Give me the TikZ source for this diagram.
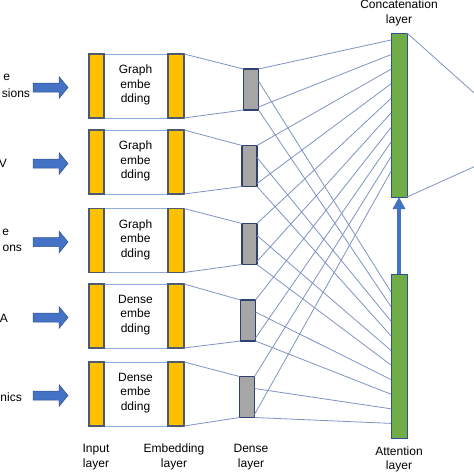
\documentclass[tikz,border=0pt]{standalone}
\usepackage{fontspec}
\setmainfont{Liberation Sans}
\usetikzlibrary{arrows.meta,calc}
\definecolor{gold}{HTML}{FFC000}
\definecolor{yedge}{HTML}{4D5A6B}
\definecolor{frameline}{HTML}{8FAADC}
\definecolor{wirecol}{HTML}{7F92C2}
\definecolor{grayfill}{HTML}{A6A6A6}
\definecolor{grayedge}{HTML}{2F4170}
\definecolor{greenfill}{HTML}{70AD47}
\definecolor{greenedge}{HTML}{2F528F}
\definecolor{arrowblue}{HTML}{4472C4}
\definecolor{arrowedge}{HTML}{2F528F}
\tikzset{
  base/.style={inner sep=0pt, outer sep=0pt},
  framebox/.style={base, draw=frameline, line width=0.8pt, minimum width=95pt, minimum height=64pt},
  inrect/.style={base, fill=gold, draw=yedge, line width=1.2pt, minimum width=15pt, minimum height=64pt},
  emrect/.style={base, fill=gold, draw=yedge, line width=1.2pt, minimum width=16pt, minimum height=64pt},
  graybox/.style={base, fill=grayfill, draw=grayedge, line width=1.2pt, minimum width=15pt, minimum height=41pt},
  greenbox/.style={base, fill=greenfill, draw=greenedge, line width=1pt, minimum width=16pt, minimum height=164pt},
  wire/.style={draw=wirecol, line width=0.8pt},
  inner/.style={base, align=center, font=\fontsize{12}{14.5}\selectfont},
  label/.style={base, align=center, font=\fontsize{12}{14.5}\selectfont},
  frag/.style={base, anchor=east, font=\fontsize{12}{14.5}\selectfont},
  barrow/.style={fill=arrowblue, draw=arrowedge, line width=0.5pt},
  upflow/.style={draw=arrowblue, line width=3.5pt, -{Triangle[width=12pt,length=12pt]}}
}
\begin{document}
\begin{tikzpicture}[x=1pt,y=-1pt]
\useasboundingbox (0,0) rectangle (474,474);
\clip (0,0) rectangle (474,474);

% blocks: center y
\foreach \i/\cy/\txt in {1/86/Graph, 2/162/Graph, 3/240.5/Graph, 4/316/Dense, 5/394/Dense}{
  \node[framebox] (box\i) at (136.5,\cy) {};
  \node[inrect] (in\i) at (96.5,\cy) {};
  \node[emrect] (em\i) at (176,\cy) {};
  \node[inner] (t\i) at (135.5,\cy-1) {\txt\\embe\\dding};
  \fill[barrow] ($(in\i.west)+(-21,1.5)$) -- ++(-9,-11) -- ++(0,6.5) -- ++(-26,0) -- ++(0,9) -- ++(26,0) -- ++(0,6.5) -- cycle;
}

% dense layer
\node[graybox] (g1) at (251,89.5) {};
\node[graybox] (g2) at (249.5,166) {};
\node[graybox] (g3) at (249.5,244) {};
\node[graybox] (g4) at (248,320.5) {};
\node[graybox] (g5) at (247,397) {};

% concat & attention
\node[greenbox] (cat) at (399,115) {};
\node[greenbox] (att) at (399,356) {};

% embedding -> dense
\foreach \i in {1,...,5}{
  \draw[wire] (em\i.north east) -- (g\i.north west);
  \draw[wire] (em\i.south east) -- (g\i.south west);
}

% dense -> concat / attention
\foreach \i in {1,...,5}{
  \pgfmathsetmacro\ka{7+14.6*2*(\i-1)}
  \pgfmathsetmacro\kb{7+14.6*(2*(\i-1)+1)}
  \pgfmathsetmacro\aa{18+14.6*2*(\i-1)}
  \pgfmathsetmacro\ab{18+14.6*(2*(\i-1)+1)}
  \draw[wire] (g\i.north east) -- ($(cat.north west)+(0,\ka)$);
  \draw[wire] ($(g\i.south east)+(0,-3)$) -- ($(cat.north west)+(0,\kb)$);
  \draw[wire] ($(g\i.north east)+(0,12)$) -- ($(att.north west)+(0,\aa)$);
  \draw[wire] (g\i.south east) -- ($(att.north west)+(0,\ab)$);
}

% concat -> output (off picture)
\coordinate (out) at (529,142);
\draw[wire] (cat.north east) -- (out);
\draw[wire] (cat.south east) -- (out);

% attention -> concat
\draw[upflow] (att.north) -- (cat.south);

% labels
\node[label] (lcat) at (399,13) {Concatenation\\layer};
\node[label] (lin) at (96,457) {Input\\layer};
\node[label] (lem) at (174,457) {Embedding\\layer};
\node[label] (lde) at (251,457) {Dense\\layer};
\node[label] (lat) at (399,459.5) {Attention\\layer};

% cut-off input names
\node[frag] (f1a) at (10,77) {e};
\node[frag] (f1b) at (30,93) {sions};
\node[frag] (f2) at (7,163) {V};
\node[frag] (f3a) at (9,232) {e};
\node[frag] (f3b) at (22,248) {ons};
\node[frag] (f4) at (8,318) {A};
\node[frag, anchor=west] (f5) at (0.5,397) {nics};
\end{tikzpicture}
\end{document}
